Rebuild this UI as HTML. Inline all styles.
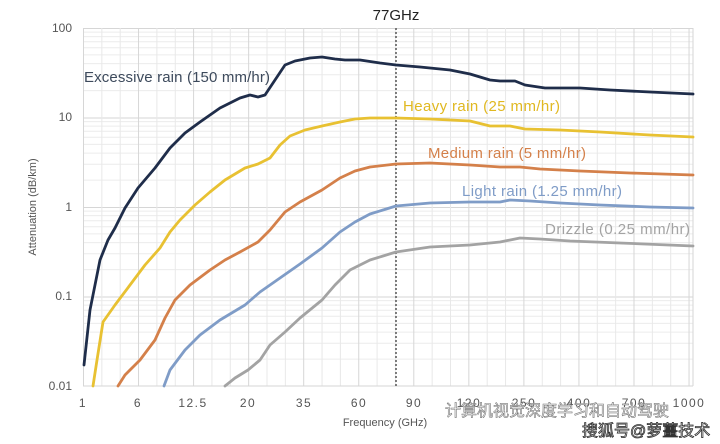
<!DOCTYPE html>
<html><head><meta charset="utf-8"><style>
html,body{margin:0;padding:0;background:#fff;}
svg{display:block;font-family:"Liberation Sans","Noto Sans CJK SC",sans-serif;}
</style></head><body>
<svg width="720" height="444" viewBox="0 0 720 444" xmlns="http://www.w3.org/2000/svg">
<defs>
<pattern id="vg" x="83" y="0" width="55.05" height="444" patternUnits="userSpaceOnUse">
<line x1="0.5" x2="0.5" y1="0" y2="444" stroke="#d6d6d6" stroke-width="1"/>
<line x1="18.85" x2="18.85" y1="0" y2="444" stroke="#e8e8e8" stroke-width="1"/>
<line x1="37.2" x2="37.2" y1="0" y2="444" stroke="#e8e8e8" stroke-width="1"/>
</pattern>
<pattern id="hg" x="0" y="28" width="720" height="89.5" patternUnits="userSpaceOnUse">
<line x1="0" x2="720" y1="0.5" y2="0.5" stroke="#d6d6d6"/>
<line x1="0" x2="720" y1="62.6" y2="62.6" stroke="#ececec"/>
<line x1="0" x2="720" y1="46.8" y2="46.8" stroke="#ececec"/>
<line x1="0" x2="720" y1="35.6" y2="35.6" stroke="#ececec"/>
<line x1="0" x2="720" y1="26.9" y2="26.9" stroke="#ececec"/>
<line x1="0" x2="720" y1="19.8" y2="19.8" stroke="#ececec"/>
<line x1="0" x2="720" y1="13.8" y2="13.8" stroke="#ececec"/>
<line x1="0" x2="720" y1="8.6" y2="8.6" stroke="#ececec"/>
<line x1="0" x2="720" y1="4.1" y2="4.1" stroke="#ececec"/>
</pattern>
</defs>
<rect width="720" height="444" fill="#fff"/>
<rect x="83" y="28" width="610" height="358" fill="url(#hg)"/>
<rect x="83" y="28" width="610" height="358" fill="url(#vg)"/>
<line x1="83" x2="693" y1="386" y2="386" stroke="#d6d6d6"/>
<line x1="693" x2="693" y1="28" y2="386" stroke="#d6d6d6"/>
<line x1="396" x2="396" y1="28" y2="386" stroke="#555" stroke-width="1.5" stroke-dasharray="2,2"/>
<g fill="none" stroke-width="2.8" stroke-linejoin="round" stroke-linecap="round">
<polyline stroke="#1f2d4a" points="84,365 90,310 100,260 108,240 115,228 125,208 138,188 155,168 170,148 185,133 200,122 220,108 240,98 250,95 258,97 265,95 275,80 285,65 295,61 310,58 322,57 335,59 345,60 360,60 380,63 396,65 420,67 450,70 470,74 490,80 500,81 515,81 525,85 545,88 580,88 610,90 650,92 693,94"/>
<polyline stroke="#e8c132" points="93,386 97,360 103,322 115,305 130,285 145,265 160,248 170,232 180,220 195,205 210,192 225,180 245,168 258,164 270,158 280,145 290,136 305,130 322,126 340,122 355,119 370,118 396,118 430,119 470,121 490,126 510,126 525,129 560,130 600,132 650,135 693,137"/>
<polyline stroke="#d4804a" points="118,386 125,375 140,360 155,340 165,318 175,300 190,285 210,270 225,260 240,252 258,242 270,230 285,212 300,202 322,190 340,178 355,171 370,167 396,164 430,163 470,165 500,167 520,167 540,169 580,171 630,173 693,175"/>
<polyline stroke="#7f9cc7" points="164,386 170,370 185,350 200,335 220,320 245,305 260,292 280,278 300,264 322,248 340,232 355,222 370,214 396,206 430,203 470,202 500,202 510,200 530,201 560,203 600,205 650,207 693,208"/>
<polyline stroke="#a3a3a3" points="225,386 235,378 248,370 260,360 270,345 285,332 300,318 322,300 335,285 350,270 370,260 396,252 430,247 470,245 500,242 520,238 540,239 570,241 620,243 693,246"/>
</g>
<g font-size="15">
<text x="84" y="82" fill="#3d4a5c" textLength="186">Excessive rain (150 mm/hr)</text>
<text x="403" y="111" fill="#e0b820" textLength="157">Heavy rain (25 mm/hr)</text>
<text x="428" y="158" fill="#d4804a" textLength="158">Medium rain (5 mm/hr)</text>
<text x="462" y="196" fill="#7f9cc7" textLength="160">Light rain (1.25 mm/hr)</text>
<text x="545" y="234" fill="#a3a3a3" textLength="145">Drizzle (0.25 mm/hr)</text>
<text x="396" y="20" fill="#222" text-anchor="middle">77GHz</text>
</g>
<g font-size="12" fill="#555" text-anchor="end">
<text x="72" y="32">100</text><text x="72" y="121">10</text><text x="72" y="211">1</text><text x="72" y="300">0.1</text><text x="72" y="390">0.01</text>
</g>
<g font-size="12" fill="#555" text-anchor="middle" letter-spacing="1.5">
<text x="83" y="407">1</text><text x="138" y="407">6</text><text x="193" y="407">12.5</text><text x="248" y="407">20</text><text x="304" y="407">35</text><text x="359" y="407">60</text><text x="414" y="407">90</text><text x="469" y="407">120</text><text x="524" y="407">250</text><text x="579" y="407">400</text><text x="634" y="407">700</text><text x="689" y="407">1000</text>
</g>
<text x="385" y="426" font-size="11" fill="#555" text-anchor="middle">Frequency (GHz)</text>
<text transform="translate(36,207) rotate(-90)" font-size="11" fill="#555" text-anchor="middle">Attenuation (dB/km)</text>
<text x="445" y="416" font-size="16" fill="#fff" stroke="#777" stroke-width="0.6">计算机视觉深度学习和自动驾驶</text>
<text x="582" y="436" font-size="16" fill="#fff" stroke="#333" stroke-width="0.8">搜狐号@萝薑技术</text>
</svg>
</body></html>
